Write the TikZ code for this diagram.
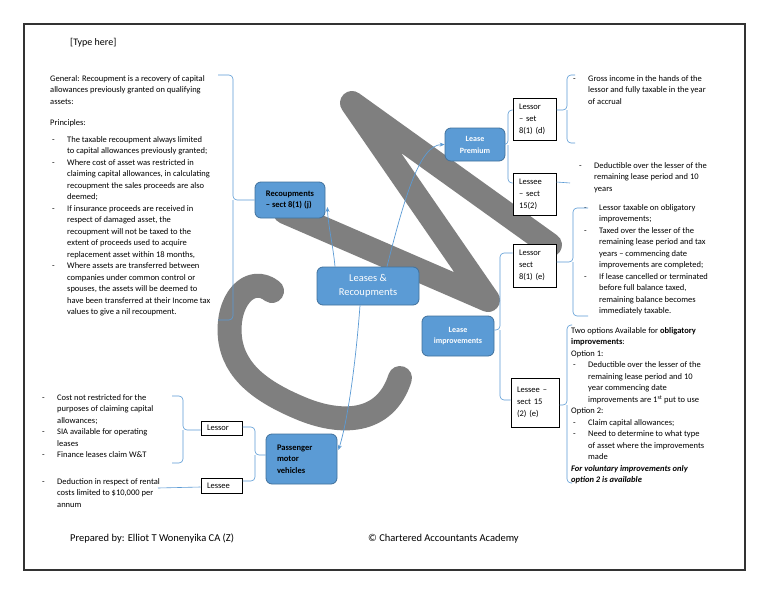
\documentclass[tikz,border=0pt]{standalone}
\usepackage{fontspec}
\setmainfont{Carlito}
\usetikzlibrary{arrows.meta,calc}
\definecolor{boxblue}{HTML}{5B9BD5}
\definecolor{boxedge}{HTML}{41719C}
\definecolor{linkblue}{HTML}{5B9BD5}
\definecolor{wmgray}{HTML}{7F7F7F}
\newcommand\bdash{\makebox[17pt][l]{\hspace{2pt}-}}
\newcommand\bind{\hspace*{17pt}}
\begin{document}
\begin{tikzpicture}[x=1pt,y=-1pt,
  txt/.style={inner sep=0pt, anchor=north west, align=left, font=\fontsize{8.5}{11.5}\selectfont},
  bbox/.style={draw=boxedge, line width=0.8pt, fill=boxblue, rounded corners=6pt, inner sep=0pt},
  wbox/.style={draw=black, line width=1pt, fill=white, inner xsep=6pt, inner ysep=0pt, align=left, font=\fontsize{8.5}{12}\selectfont},
  brace/.style={draw=linkblue, line width=0.6pt, rounded corners=4pt},
  arr/.style={draw=linkblue, line width=0.7pt, -{Stealth[length=5pt,width=4pt]}},
  wmk/.style={draw=wmgray, line width=24pt, line cap=round, line join=round}]
\useasboundingbox (0,0) rectangle (768,594);
\fill[white] (0,0) rectangle (768,594);
\draw[line width=1.5pt, draw=black!80] (24,24) rectangle (745,570);

% watermark "CA"
\draw[wmk] (272,291) .. controls (250,274) and (226,300) .. (230,338) .. controls (234,372) and (262,392) .. (300,408) .. controls (340,425) and (385,425) .. (400,378);
\draw[wmk] (285,212) -- (488,300) -- (352,103) -- (550,245);

% texts
\node[txt, font=\fontsize{10}{12}\selectfont] (typehere) at (70,37) {\strut[Type here]};
\node[txt] (gen) at (50,73) {\strut General: Recoupment is a recovery of capital\\
allowances previously granted on qualifying\\
assets:\\[9.5pt]
Principles:\\[5.5pt]
\bdash The taxable recoupment always limited\\
\bind to capital allowances previously granted;\\
\bdash Where cost of asset was restricted in\\
\bind claiming capital allowances, in calculating\\
\bind recoupment the sales proceeds are also\\
\bind deemed;\\
\bdash If insurance proceeds are received in\\
\bind respect of damaged asset, the\\
\bind recoupment will not be taxed to the\\
\bind extent of proceeds used to acquire\\
\bind replacement asset within 18 months,\\
\bdash Where assets are transferred between\\
\bind companies under common control or\\
\bind spouses, the assets will be deemed to\\
\bind have been transferred at their Income tax\\
\bind values to give a nil recoupment.};

\node[txt] (gross) at (571,73) {\strut\bdash Gross income in the hands of the\\
\bind lessor and fully taxable in the year\\
\bind of accrual};
\node[txt] (deduct) at (577,160) {\strut\bdash Deductible over the lesser of the\\
\bind remaining lease period and 10\\
\bind years};
\node[txt] (lsrtext) at (582,202) {\strut\bdash Lessor taxable on obligatory\\
\bind improvements;\\
\bdash Taxed over the lesser of the\\
\bind remaining lease period and tax\\
\bind years – commencing date\\
\bind improvements are completed;\\
\bdash If lease cancelled or terminated\\
\bind before full balance taxed,\\
\bind remaining balance becomes\\
\bind immediately taxable.};
\node[txt] (options) at (571,325) {\strut Two options Available for \textbf{obligatory}\\
\textbf{improvements}:\\
Option 1:\\
\bdash Deductible over the lesser of the\\
\bind remaining lease period and 10\\
\bind year commencing date\\
\bind improvements are 1\textsuperscript{st} put to use\\
Option 2:\\
\bdash Claim capital allowances;\\
\bdash Need to determine to what type\\
\bind of asset where the improvements\\
\bind made\\
\textbf{\textit{For voluntary improvements only}}\\
\textbf{\textit{option 2 is available}}};
\node[txt] (pmvlsr) at (40,392) {\strut\bdash Cost not restricted for the\\
\bind purposes of claiming capital\\
\bind allowances;\\
\bdash SIA available for operating\\
\bind leases\\
\bdash Finance leases claim W\&T};
\node[txt] (pmvlse) at (40,476) {\strut\bdash Deduction in respect of rental\\
\bind costs limited to \$10,000 per\\
\bind annum};

\node[txt, font=\fontsize{10.5}{12.5}\selectfont] (prep) at (70,533) {\strut Prepared by: Elliot T Wonenyika CA (Z)};
\node[txt, font=\fontsize{10.5}{12.5}\selectfont] (copy) at (368,533) {\strut © Chartered Accountants Academy};

% blue boxes
\node[bbox, minimum width=70pt, minimum height=36pt, font=\bfseries\fontsize{8.5}{11}\selectfont, align=left] (rec) at (290,200) {Recoupments\\– sect 8(1) (j)};
\node[bbox, minimum width=102pt, minimum height=38pt, text=white, font=\fontsize{10.5}{14}\selectfont, align=center] (ctr) at (368,286) {Leases \&\\Recoupments};
\node[bbox, minimum width=60pt, minimum height=33pt, text=white, font=\bfseries\fontsize{8}{12}\selectfont, align=center] (lp) at (475,144.5) {Lease\\Premium};
\node[bbox, minimum width=72pt, minimum height=40pt, text=white, font=\bfseries\fontsize{8}{11.5}\selectfont, align=center] (li) at (458,336) {Lease\\improvements};
\node[bbox, minimum width=71pt, minimum height=50pt, text width=49pt, font=\bfseries\fontsize{8.5}{11.5}\selectfont, align=left] (psg) at (301.5,459) {Passenger\\motor\\vehicles};

% white boxes
\node[wbox, minimum width=43pt, minimum height=42pt, text width=31pt] (lsrD) at (534.5,119) {Lessor\\– set\\8(1) (d)};
\node[wbox, minimum width=43pt, minimum height=42pt, text width=31pt] (lseD) at (534.5,194) {Lessee\\– sect\\15(2)};
\node[wbox, minimum width=43pt, minimum height=43pt, text width=31pt] (lsrE) at (534.5,265.5) {Lessor\\sect\\8(1) (e)};
\node[wbox, minimum width=48pt, minimum height=49pt, text width=36pt] (lseE) at (535,402.5) {Lessee –\\sect 15\\(2) (e)};
\node[wbox, minimum width=41pt, minimum height=14pt, text width=29pt] (lsrL) at (221.5,428) {Lessor};
\node[wbox, minimum width=41pt, minimum height=15pt, text width=29pt] (lseL) at (221.5,485.5) {Lessee};

% braces
\draw[brace] (218,75) -| (233,200) -- (rec.west);
\draw[brace] (218,320) -| (233,200);
\draw[brace] (lp.east) -- (508,145) |- (lsrD.west |- 0,110);
\draw[brace] (508,145) |- (lseD.west |- 0,183);
\draw[brace] (lsrD.east |- 0,110) -- (567,110) |- (575,75);
\draw[brace] (567,110) |- (575,143);
\draw[brace] (lseD.east |- 0,182) -- (570,183);
\draw[brace] (lsrE.east |- 0,262) -- (573,262) |- (588,208);
\draw[brace] (573,262) |- (588,316);
\draw[brace] (li.east |- 0,330) -- (500,330) |- (lsrE.west |- 0,253);
\draw[brace] (500,330) |- (lseE.west |- 0,400);
\draw[brace] (lseE.east |- 0,405) -- (567,405) |- (572,325);
\draw[brace] (567,405) |- (572,483);
\draw[brace] (172,396) -| (183,430) -- (lsrL.west |- 0,430);
\draw[brace] (172,463) -| (183,430);
\draw[brace] (lsrL.east |- 0,427) -| (255,455) -- (psg.west |- 0,455);
\draw[brace] (lseL.east |- 0,481) -| (255,455);
\draw[brace] (lseL.west |- 0,487) -- (158,488);

% arrows
\draw[arr] (ctr.north -| 335,0) .. controls (333,245) and (328,225) .. ([shift={(2,7)}]rec.east);
\draw[arr] (ctr.north -| 387,0) .. controls (405,195) and (420,145) .. (lp.west);
\draw[arr] (ctr.south -| 360,0) .. controls (356,360) and (348,420) .. ([shift={(1,-9)}]psg.east);
\end{tikzpicture}
\end{document}
